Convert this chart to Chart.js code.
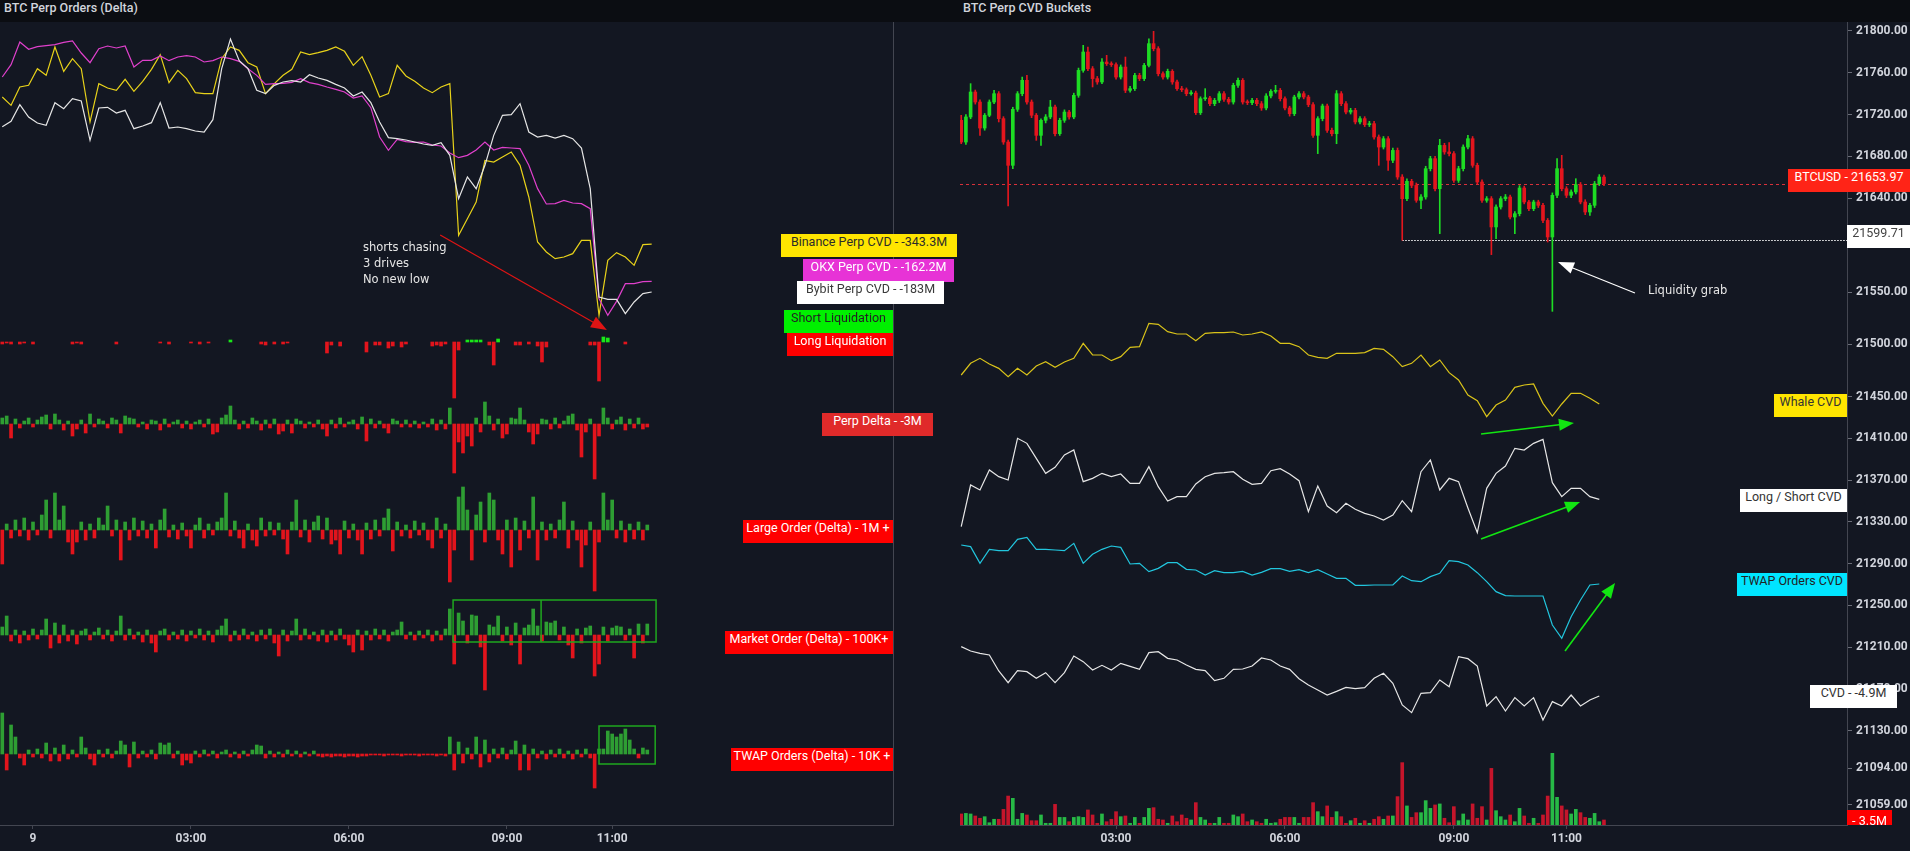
<!DOCTYPE html>
<html>
<head>
<meta charset="utf-8">
<script src="https://cdn.jsdelivr.net/npm/chart.js@4.4.1/dist/chart.umd.min.js"></script>
<style>
  html, body { margin: 0; padding: 0; background: #131722; width: 1910px; height: 851px; overflow: hidden; }
  #hdr { position: absolute; left: 0; top: 0; width: 1910px; height: 22px; background: #0b0d12; }
  .title { position: absolute; top: 0; height: 22px; line-height: 22px; color: #d1d4dc; font: 500 12.5px Roboto, sans-serif; }
  #leftWrap { position: absolute; left: 0; top: 22px; width: 957px; height: 829px; }
  #rightWrap { position: absolute; left: 960px; top: 22px; width: 950px; height: 829px; }
  .tag { position: absolute; height: 23px; line-height: 23px; text-align: center; white-space: nowrap; overflow: hidden;
         font: 12.5px Roboto, sans-serif; }
  .note { position: absolute; color: #e6e6e6; font: 11.5px "DejaVu Sans", sans-serif; white-space: nowrap; line-height: 16px; }
</style>
</head>
<body>
<div id="hdr"></div>
<div class="title" style="left:4px">BTC Perp Orders (Delta)</div>
<div class="title" style="left:963px">BTC Perp CVD Buckets</div>
<div id="leftWrap"><canvas id="leftChart" width="957" height="829"></canvas></div>
<div id="rightWrap"><canvas id="rightChart" width="950" height="829"></canvas></div>

<script>
// ============================================
// DATA - times are minutes after 00:00 of day 9
// ============================================

const leftTicks      = [0, 180, 360, 540, 660];
const leftTickLabels = ["9", "03:00", "06:00", "09:00", "11:00"];
const rightTicks      = [180, 360, 540, 660];
const rightTickLabels = ["03:00", "06:00", "09:00", "11:00"];
const priceTicks = [21800, 21760, 21720, 21680, 21640, 21550, 21500, 21450, 21410, 21370,
                    21330, 21290, 21250, 21210, 21170, 21130, 21094, 21059];

// Perp CVD per exchange (M), 10 min samples from 23:25
const binanceCvd = [-122.5,-135,-107.5,-105,-80,-90,-47.5,-84,-65,-80,
  -160,-102.5,-109,-112.5,-96,-114,-99,-81,-59,-101,
  -82.5,-95,-116,-117.5,-117.5,-65,-47.5,-52.5,-71,-77.5,
  -117.5,-102.5,-90,-81,-55,-59,-56,-52.5,-47.5,-54,
  -75,-62,-90,-122.5,-117.5,-75,-91,-99,-109,-116,
  -107.5,-102.5,-330,-305,-280,-217.5,-220,-212.5,-205,-225,
  -272.5,-340,-355,-365,-362.5,-357.5,-337.5,-337.5,-450,-367.5,
  -356,-362.5,-375,-344,-343.3];
const okxCvd = [-39.6,-32.2,-18.6,-23,-21.4,-20.8,-20.2,-18.8,-18,-25.2,
  -31,-22.6,-21,-22.2,-21,-33.6,-29.6,-29.6,-27,-29.8,
  -27.6,-26.8,-27.6,-30.6,-29.8,-27.6,-28.6,-30.2,-34.6,-38.6,
  -44,-43.6,-43.4,-42.8,-40.6,-43,-44,-45.6,-47,-48.6,
  -52.2,-51,-58,-75.6,-83.6,-77,-78.4,-78.8,-78.6,-80.4,
  -81,-85.2,-88,-86.6,-83.4,-78.6,-83.4,-81.8,-82.2,-82.6,
  -92.6,-106.6,-115.8,-115.6,-113.6,-115.2,-115.6,-118.6,-172.6,-182.6,
  -174.2,-163.6,-163.6,-162.4,-162.2];
const bybitCvd = [-83.8,-80.6,-70.6,-78,-81.6,-83,-69.4,-73,-67,-68.4,
  -92,-72.6,-72.2,-75.6,-74,-85,-83.4,-81.4,-69.4,-84.6,
  -84,-85,-86.4,-87,-79.6,-49,-31.2,-44.2,-49,-62,
  -64,-59,-57,-56.2,-57,-52.6,-54.6,-56,-58.4,-60.6,
  -65.4,-63,-69.4,-81,-90.4,-91,-91.8,-93,-94.2,-95,
  -93.4,-101,-127,-114,-121,-107,-89,-77,-76.6,-70,
  -87,-90,-89,-90.6,-89,-91,-96.6,-121,-186,-187.4,
  -187.4,-196,-189,-184,-183];

// 5 min delta bars from 23:25 (short liq > 0, long liq < 0)
const liquidations = [-2,-1,-2,0,-2,-1,0,-2,0,0, 0,0,0,0,0,0,-2,-1,-2,0,
  0,0,0,0,0,0,-2,0,0,0, 0,0,0,0,0,0,-1,0,-2,0,
  0,0,0,-1,0,-2,0,-1,0,0, 0,0,2,0,0,0,0,0,0,-2,
  -3,0,-2,0,-2,-1,0,0,0,0, 0,0,0,0,-11,-3,0,-4,0,0,
  0,0,0,-10,0,-3,-3,0,-6,-4, 0,-5,-2,0,0,0,0,0,-4,-3,
  -4,-2,0,-56,-8,0,2,2,2,2, 0,-3,-23,3,0,0,0,-3,-3,0,
  -2,0,-4,-20,-5,0,0,0,0,0, 0,0,0,0,-3,-3,-39,5,4,0,
  0,0,-2,0,0,0,0,0];
const perpDelta = [6,8,-14,5,-4,3,6,-3,4,7, 9,-5,10,4,-6,3,-12,-5,4,-9,
  10,-3,5,3,-4,6,4,-9,8,6, 5,-3,2,-5,4,3,-6,5,-3,2,
  4,-4,3,-5,2,4,-3,5,-10,-8, 6,9,18,4,-5,3,-4,6,3,-6,
  4,-4,5,-10,-7,4,-9,5,3,-4, 2,-3,4,-5,-12,4,-4,6,-3,2,
  4,-5,7,-17,5,-4,3,-4,-9,5, 3,-3,4,-3,3,-4,2,-3,5,-6,
  4,-5,16,-49,-18,-29,-12,-22,6,-8, 22,8,-6,5,-14,-10,6,5,16,4,
  -8,-20,-10,5,4,-5,6,-4,3,8, 10,-6,-33,-8,5,-55,-12,16,6,-5,
  4,7,-6,5,-4,6,-5,-3];
const largeOrders = [-34,6,-8,10,-6,12,-10,8,-5,15, 30,-8,37,10,24,-12,-24,-12,8,-10,
  6,-8,12,5,24,-6,10,-30,8,-10, 12,-6,9,-8,6,-18,10,21,-7,5,
  -9,7,-6,-18,5,12,-8,6,-5,8, 12,37,-6,9,-8,-18,6,-10,-16,12,
  -6,8,-5,7,-9,-24,8,30,-7,10, -12,8,14,-9,12,-14,-10,-24,9,-8,
  6,-10,-24,7,-9,10,-6,12,21,-21, 8,-6,5,-8,9,-5,7,-10,-18,12,
  -8,6,-52,-20,33,43,20,-30,15,28, -12,37,30,-10,-24,10,-37,12,-20,9,
  -8,33,-30,8,-10,6,-8,10,28,-18, 9,-10,-37,-15,8,-61,-12,37,10,30,
  -8,9,-12,6,-9,8,-10,5];
const marketOrders = [8,19,-6,5,-8,4,-5,6,-4,5, 16,-13,12,-8,10,-6,5,-9,4,6,
  -5,3,7,-4,5,-6,4,19,-5,6, -4,3,-7,5,-8,-17,4,6,-5,3,
  -4,5,-6,4,-3,6,-5,4,-7,5, 9,16,-6,4,-5,6,-4,3,-6,5,
  -4,6,-8,-21,5,-6,4,16,-5,6, -4,3,-6,5,-7,4,-5,6,-4,-10,
  -17,5,-15,4,-5,6,-4,5,-6,3, 5,13,-4,3,-5,4,-3,5,-6,4,
  -5,6,26,-29,22,14,-8,20,19,-12, -55,10,8,19,-6,8,-10,12,-29,7,
  10,26,9,-6,13,12,14,-5,8,-10, -23,6,-8,7,9,-41,-29,8,-6,7,
  9,8,-5,6,-23,11,-8,11];
const twapOrders = [41,-16,29,17,-4,-11,4,-3,5,-4, 11,-7,6,-7,9,-5,4,-3,17,6,
  -5,-11,4,-3,5,-4,3,13,9,-13, 12,-4,3,-3,4,-5,11,9,11,-4,
  3,-11,-6,-9,3,-3,4,-2,3,-4, 2,4,-3,2,-4,3,-2,4,9,8,
  -4,3,-3,2,-3,4,-2,3,-3,2, -2,3,-2,-3,-2,-3,-2,-2,-3,-2,
  -2,-3,-2,-2,-1,-1,-1,-2,-1,-1, -1,-2,-1,-1,-1,-2,-1,-1,-1,-2,
  -1,-2,17,-16,12,-9,6,-5,17,-13, 14,-8,5,-4,6,-5,4,13,-16,9,
  -16,5,-4,3,-5,4,-3,5,-4,3, -5,4,-3,5,-4,-34,5,5,23,20,
  17,20,25,14,5,-4,6,4];

// BTCUSD 5 min candles from 00:15
const opens = [21714.5,21693.7,21717.7,21741.6,21732.0,21707.1,21719.3,21732.0,21740.0,21716.1,
  21693.7,21671.4,21725.0,21740.0,21752.8,21732.0,21719.3,21700.1,21714.5,21717.7,
  21727.2,21701.7,21714.5,21722.4,21717.7,21738.4,21762.3,21779.9,21763.9,21754.4,
  21751.2,21770.3,21768.7,21767.8,21755.9,21765.5,21743.2,21744.8,21757.5,21754.4,
  21767.1,21787.9,21783.1,21759.1,21755.9,21761.4,21751.2,21744.8,21743.8,21740.0,
  21740.6,21721.8,21735.2,21735.8,21730.4,21733.6,21740.0,21734.6,21732.0,21748.0,
  21752.8,21732.0,21731.4,21733.6,21730.4,21726.3,21737.8,21742.2,21743.2,21735.2,
  21726.3,21720.8,21736.8,21740.0,21736.8,21729.5,21700.1,21716.1,21728.2,21704.9,
  21701.7,21740.0,21730.4,21722.4,21724.0,21712.9,21716.1,21710.3,21711.3,21698.5,
  21688.9,21696.9,21676.2,21685.7,21660.2,21639.5,21656.1,21652.2,21637.9,21641.1,
  21668.2,21677.8,21649.0,21690.5,21684.2,21682.6,21657.0,21668.2,21688.9,21696.9,
  21671.4,21655.4,21637.9,21639.5,21612.4,21631.5,21639.5,21641.1,21621.9,21625.1,
  21649.7,21636.3,21629.9,21636.3,21633.1,21618.7,21602.8,21642.7,21668.2,21649.0,
  21642.7,21645.9,21652.9,21636.3,21626.7,21633.1,21653.8,21660.2];
const highs = [21719.3,21720,21749.6,21743.5,21734,21721,21734,21743.2,21742,21718,
  21695.5,21727,21742,21755.9,21757.5,21734,21721,21716,21720,21733.6,
  21729,21716.5,21724.5,21724,21740.5,21764.5,21786.3,21784.7,21766,21756.5,
  21773.5,21776.7,21770.5,21769.5,21767.5,21775.1,21747,21759.5,21759.5,21769,
  21792.6,21799.7,21785,21761,21763.5,21763,21753,21747,21745.5,21743,
  21742.5,21737,21744.8,21737.5,21735.5,21742,21742,21736.5,21750,21755,
  21754.5,21734,21735.5,21735.5,21732.5,21740,21744,21748,21745,21737,
  21728,21738.5,21742,21742,21738.5,21731.5,21718,21730,21730,21707,
  21743,21742,21732.5,21726,21726,21718,21718,21713.5,21713.5,21700.5,
  21699,21699,21688,21688,21662.5,21658.5,21658,21654.5,21643.5,21670.5,
  21680,21680,21696.3,21692.5,21693.1,21684.5,21670.5,21691,21700.1,21699,
  21673.5,21657.5,21641.5,21641.5,21633.5,21641.5,21643.5,21643,21627,21652,
  21651.5,21638,21638,21638,21635,21620.5,21645,21677.8,21681,21651,
  21648,21658.6,21655,21638.5,21635,21656,21662.5,21662];
const lows = [21692.1,21691.5,21716,21730,21700.1,21705,21718,21730.5,21712.9,21691.5,
  21632.5,21668.2,21723,21738,21730,21717,21695.3,21690.5,21712,21716,
  21699.5,21700,21712.5,21715.5,21716,21736.5,21760.5,21762,21746.4,21749,
  21749.5,21767,21766,21754,21754,21741,21741.5,21743,21752.5,21752.5,
  21765.5,21781,21757,21754,21754,21749,21743,21742,21738,21738.5,
  21720,21720,21733.5,21728.5,21728.5,21731.5,21732.5,21730,21730,21746,
  21730,21729.5,21729.5,21728.5,21724,21724.5,21736,21740.5,21733,21724.5,
  21718.5,21719,21735,21735,21727.5,21698,21682.6,21714,21703,21699.5,
  21692.1,21728.5,21720.5,21720.5,21711,21711,21708.5,21708.5,21696.5,21671.4,
  21687,21666.6,21674,21658,21599.71,21637.5,21650,21636,21629.9,21639,
  21666,21647,21606,21682,21680.5,21655,21655,21666,21687,21669.5,
  21653.5,21636,21636,21585.9,21601.2,21629.5,21637.5,21620,21606,21623,
  21634.5,21628,21628,21631,21616.5,21598,21531.6,21640.5,21647,21640.5,
  21640.5,21644,21634.5,21624.2,21623.5,21631,21652,21652];
const closes = [21693.7,21717.7,21741.6,21732.0,21707.1,21719.3,21732.0,21740.0,21716.1,21693.7,
  21671.4,21725.0,21740.0,21752.8,21732.0,21719.3,21700.1,21714.5,21717.7,21727.2,
  21701.7,21714.5,21722.4,21717.7,21738.4,21762.3,21779.9,21763.9,21754.4,21751.2,
  21770.3,21768.7,21767.8,21755.9,21765.5,21743.2,21744.8,21757.5,21754.4,21767.1,
  21787.9,21783.1,21759.1,21755.9,21761.4,21751.2,21744.8,21743.8,21740.0,21740.6,
  21721.8,21735.2,21735.8,21730.4,21733.6,21740.0,21734.6,21732.0,21748.0,21752.8,
  21732.0,21731.4,21733.6,21730.4,21726.3,21737.8,21742.2,21743.2,21735.2,21726.3,
  21720.8,21736.8,21740.0,21736.8,21729.5,21700.1,21716.1,21728.2,21704.9,21701.7,
  21740.0,21730.4,21722.4,21724.0,21712.9,21716.1,21710.3,21711.3,21698.5,21688.9,
  21696.9,21676.2,21685.7,21660.2,21639.5,21656.1,21652.2,21637.9,21641.1,21668.2,
  21677.8,21649.0,21690.5,21684.2,21682.6,21657.0,21668.2,21688.9,21696.9,21671.4,
  21655.4,21637.9,21639.5,21612.4,21631.5,21639.5,21641.1,21621.9,21625.1,21649.7,
  21636.3,21629.9,21636.3,21633.1,21618.7,21602.8,21642.7,21668.2,21649.0,21642.7,
  21645.9,21652.9,21636.3,21626.7,21633.1,21653.8,21660.2,21653.97];
// volume (M)
const volumes = [7.7,8.1,7.7,6.3,4.7,5.8,1.6,4.0,4.0,10.9,
  20.2,18.6,4.0,8.1,7.0,3.0,3.0,7.0,1.2,1.2,
  14.4,5.3,5.3,2.3,5.3,5.8,5.3,10.5,7.0,1.2,
  7.7,2.3,4.0,9.3,5.8,6.3,1.2,5.3,1.2,5.3,
  11.6,12.1,4.0,3.5,1.2,6.3,2.3,7.0,4.7,3.5,
  15.6,5.3,3.5,1.2,1.2,5.3,1.2,1.2,7.0,5.8,
  7.7,2.3,3.5,2.3,1.2,4.0,1.2,1.6,4.0,5.3,
  5.3,5.3,1.2,5.3,5.3,15.6,9.3,5.8,13.3,5.3,
  9.3,5.8,1.2,3.0,4.7,1.2,3.0,1.2,4.0,5.8,
  4.0,6.3,6.3,19.8,43.5,13.3,5.3,8.6,8.6,17.0,
  11.6,14.0,14.7,4.7,1.6,12.8,3.0,7.7,3.5,14.7,
  4.7,12.8,3.5,39.5,10.0,5.8,3.5,7.0,2.3,11.6,
  6.3,1.2,4.7,1.2,7.0,20.2,50.0,19.3,13.3,10.5,
  7.7,10.9,8.6,5.3,4.7,8.1,2.3,3.5];

// CVD buckets (M), 10 min samples from 00:15
const whaleCvd = [26.25,35,38.75,34.5,31.25,25,31.25,26.25,33,36.25,
  32,36,38.75,50,41.25,41.25,37,40,47,47.5,
  65,64.25,58.75,57,57,52,57.5,58,58,58.5,
  56.25,57,58.5,55.5,50,50,47.5,41.25,39.5,38.75,
  42.5,42.5,42.5,43,46.25,45.5,40,32.5,35,41.25,
  32.5,37.5,28,22.5,11.25,7,-5,3.75,7.5,17,
  18.75,19.5,5,-4.5,4.5,12.5,12.5,8.75,4.5];
const longShortCvd = [12.5,43.75,40,55,50,47.5,78.75,75,63.75,52.5,
  57,66.25,70,46.25,48.75,52.5,50,52,45,45,
  57.5,42.5,31.75,35,35,44.5,50,52.5,53,53.75,
  48,44.25,45,54.5,56,52,47,23.75,43,28,
  23,30,25.5,22.5,20.5,17.5,21.25,32,23.75,53.75,
  62.5,40,48.75,46.25,26.5,8,41.25,52.5,58,71.25,
  70,75,78,45.5,35,41.25,41.25,35,33];
const twapCvd = [73.75,72.5,60,70.5,69.5,69.5,78,79.5,70.5,70.5,
  70,69.5,75,60,66.75,70.5,73,72,59.5,60,
  53.75,56.25,60.5,60.5,55.5,55,51.25,54.5,53,53,
  54,51.25,53.25,56,56,54,55.25,53,55.25,52,
  48.75,48.75,43.5,43.5,43.75,43.75,43.75,50.5,47,46.25,
  50,52.5,62,61.25,58.75,53,46.25,38.75,35.75,35.5,
  35.5,35.5,35.5,13.75,3.75,20,32.5,43.75,44.5];
const totalCvd = [2.5,1.85,1.5,1.25,-1.15,-2.9,-1.1,-1.25,-2.25,-1.4,
  -2.9,-1.4,1.1,0.25,-1,-0.3,-1,0,-0.45,-0.9,
  1.6,1.75,0.75,0.5,-0.25,-0.9,-1.1,-2.6,-2.25,-0.9,
  -0.85,-0.4,0.8,0.5,-0.4,-0.9,-2.3,-3.25,-4,-4.75,
  -4.2,-3.6,-3.8,-3.65,-2.25,-1.5,-3,-6.25,-7.4,-4.5,
  -4.4,-2.5,-3.5,1,0.7,-0.4,-6.4,-5,-7.15,-5.15,
  -6.4,-5.15,-8.5,-5.75,-6.4,-4.75,-6.4,-5.5,-4.9];

const lastPrice = 21653.97;
const sweptLow  = 21599.71;

// ============================================
// LAYOUT / STYLE
// ============================================
const PLOT_TOP = 22, PLOT_BOTTOM = 825;   // page y of both plot areas
const COL = {
  text: "#d1d4dc", axis: "#434651",
  yellow: "#E8D21A", magenta: "#E040CC", white: "#E6E6E6", cyan: "#22C6DE",
  candleUp: "#1EDC24", candleDown: "#E3161E", volUp: "#27B946", volDown: "#C5152B",
  barUp: "#2E9E33", barDown: "#E3141C", liqUp: "#19E619",
  boxGreen: "#1FA81F",
};
Chart.defaults.font.family = "Roboto, sans-serif";
Chart.defaults.color = COL.text;

// hidden overlay axis: value vA sits at page y pA, vB at pB
function bandAxis(vA, pA, vB, pB) {
  const k = (vB - vA) / (pB - pA);
  return { display: false, min: vA + (PLOT_BOTTOM - pA) * k, max: vA + (PLOT_TOP - pA) * k };
}

function timeAxis(min, max, ticks, labels) {
  return {
    type: "linear", position: "bottom", min, max, offset: false,
    afterBuildTicks: (s) => { s.ticks = ticks.map(v => ({ value: v })); },
    ticks: { autoSkip: false, maxRotation: 0, padding: 3, color: COL.text,
             font: { size: 12, weight: "bold" },
             callback: (v) => labels[ticks.indexOf(v)] },
    grid: { offset: false, drawOnChartArea: false, drawTicks: true, tickLength: 4, color: COL.axis },
    border: { color: COL.axis },
    afterFit: (s) => { s.height = 26; s.paddingLeft = 0; s.paddingRight = 0; },
  };
}

function lineSet(times, values, axis, color) {
  return { type: "line", data: times.map((t, i) => ({ x: t, y: values[i] })), yAxisID: axis,
           borderColor: color, borderWidth: 1.2, pointRadius: 0, tension: 0 };
}

function deltaBars(times, values, axis, upColor) {
  return { type: "bar", yAxisID: axis, grouped: false, barThickness: 3,
           data: times.map((t, i) => ({ x: t, y: values[i] })),
           backgroundColor: values.map(v => v > 0 ? upColor : v < 0 ? COL.barDown : "rgba(0,0,0,0)") };
}

function drawArrow(ctx, x1, y1, x2, y2, color, width, headLen, headW) {
  const a = Math.atan2(y2 - y1, x2 - x1);
  const c = Math.cos(a), s = Math.sin(a);
  ctx.save();
  ctx.strokeStyle = color; ctx.fillStyle = color; ctx.lineWidth = width;
  ctx.beginPath(); ctx.moveTo(x1, y1); ctx.lineTo(x2 - headLen * 0.7 * c, y2 - headLen * 0.7 * s); ctx.stroke();
  ctx.beginPath(); ctx.moveTo(x2, y2);
  ctx.lineTo(x2 - headLen * c + headW * s, y2 - headLen * s - headW * c);
  ctx.lineTo(x2 - headLen * c - headW * s, y2 - headLen * s + headW * c);
  ctx.closePath(); ctx.fill();
  ctx.restore();
}

// ============================================
// 1. LEFT - BTC Perp Orders (Delta)
// ============================================
const leftTimes = binanceCvd.map((_, k) => -35 + 10 * k);
const barTimes  = perpDelta.map((_, i) => -35 + 5 * i);

const leftOverlay = {
  id: "leftOverlay",
  afterDatasetsDraw(chart) {
    const { ctx, scales } = chart;
    const x = scales.x, yb = scales.yBin;
    // "shorts chasing" arrow
    drawArrow(ctx, x.getPixelForValue(464), yb.getPixelForValue(-329.5),
                   x.getPixelForValue(654), yb.getPixelForValue(-472), "#E01414", 1.2, 16, 6);
    // highlighted bar regions
    ctx.save();
    ctx.strokeStyle = COL.boxGreen; ctx.lineWidth = 1.5;
    const ym = scales.yMkt, yt = scales.yTwapD;
    const r = (t0, t1, v0, v1, ax) => {
      const x0 = x.getPixelForValue(t0), x1 = x.getPixelForValue(t1);
      const y0 = ax.getPixelForValue(v0), y1 = ax.getPixelForValue(v1);
      ctx.strokeRect(x0, y0, x1 - x0, y1 - y0);
    };
    r(478.7, 710, 35, -7, ym);
    ctx.beginPath();
    ctx.moveTo(x.getPixelForValue(579), ym.getPixelForValue(35));
    ctx.lineTo(x.getPixelForValue(579), ym.getPixelForValue(-7));
    ctx.stroke();
    r(645, 709, 28, -10, yt);
    ctx.restore();
  },
};

new Chart(document.getElementById("leftChart"), {
  data: {
    datasets: [
      deltaBars(barTimes, liquidations, "yLiq", COL.liqUp),
      deltaBars(barTimes, perpDelta, "yPerp", COL.barUp),
      deltaBars(barTimes, largeOrders, "yLarge", COL.barUp),
      deltaBars(barTimes, marketOrders, "yMkt", COL.barUp),
      deltaBars(barTimes, twapOrders, "yTwapD", COL.barUp),
      lineSet(leftTimes, bybitCvd, "yByb", COL.white),
      lineSet(leftTimes, okxCvd, "yOkx", COL.magenta),
      lineSet(leftTimes, binanceCvd, "yBin", COL.yellow),
    ],
  },
  options: {
    responsive: false, animation: false, events: [],
    layout: { padding: 0 },
    plugins: { legend: { display: false }, tooltip: { enabled: false } },
    scales: {
      x: timeAxis(-37.6, 980, leftTicks, leftTickLabels),
      yFrame: {
        position: "right", min: 0, max: 1,
        ticks: { display: false }, grid: { display: false },
        border: { color: COL.axis },
        afterFit: (s) => { s.width = 64; s.paddingTop = 0; s.paddingBottom = 0; },
      },
      yBin: bandAxis(-10, 22, -460, 322),
      yOkx: bandAxis(-6.6, 22, -186.6, 322),
      yByb: bandAxis(-21, 22, -201, 322),
      yLiq: bandAxis(0, 342, 10, 332),
      yPerp: bandAxis(0, 424, 10, 414),
      yLarge: bandAxis(0, 530, 10, 520),
      yMkt: bandAxis(0, 635, 10, 625),
      yTwapD: bandAxis(0, 754, 10, 744),
    },
  },
  plugins: [leftOverlay],
});

// ============================================
// 2. RIGHT - BTC Perp CVD Buckets
// ============================================
const candleTimes = closes.map((_, i) => 15 + 5 * i);
const rightTimes  = whaleCvd.map((_, k) => 15 + 10 * k);
const isUp = closes.map((c, i) => c >= opens[i]);

const rightOverlay = {
  id: "rightOverlay",
  beforeDatasetsDraw(chart) {
    const { ctx, scales, chartArea } = chart;
    const yp = scales.yPrice;
    ctx.save();
    ctx.lineWidth = 1;
    ctx.strokeStyle = "#D8313A";
    ctx.setLineDash([3, 3]);
    const yl = Math.round(yp.getPixelForValue(lastPrice)) + 0.5;
    ctx.beginPath(); ctx.moveTo(chartArea.left, yl); ctx.lineTo(chartArea.right, yl); ctx.stroke();
    ctx.strokeStyle = "#FFFFFF";
    ctx.setLineDash([1.5, 1.5]);
    const ys = Math.round(yp.getPixelForValue(sweptLow)) + 0.5;
    ctx.beginPath(); ctx.moveTo(scales.x.getPixelForValue(candleTimes[94]), ys); ctx.lineTo(chartArea.right, ys); ctx.stroke();
    ctx.restore();
  },
  afterDatasetsDraw(chart) {
    const { ctx, scales } = chart;
    const x = scales.x;
    const P = (t, v, ax) => [x.getPixelForValue(t), scales[ax].getPixelForValue(v)];
    let a, b;
    a = P(733, 21549.2, "yPrice"); b = P(651, 21578.8, "yPrice");
    drawArrow(ctx, a[0], a[1], b[0], b[1], "#FFFFFF", 1.2, 16, 6);
    a = P(569, -18, "yWhale"); b = P(668, -9.75, "yWhale");
    drawArrow(ctx, a[0], a[1], b[0], b[1], "#12E612", 1.6, 15, 6);
    a = P(569, 3.25, "yLs"); b = P(674.5, 31, "yLs");
    drawArrow(ctx, a[0], a[1], b[0], b[1], "#12E612", 1.6, 15, 6);
    a = P(658.5, -5.75, "yTwap"); b = P(711.8, 45.25, "yTwap");
    drawArrow(ctx, a[0], a[1], b[0], b[1], "#12E612", 1.6, 15, 6);
  },
};

const priceAxis = Object.assign(bandAxis(21800, 31, 21059, 805), {
  display: true, position: "right",
  afterBuildTicks: (s) => { s.ticks = priceTicks.map(v => ({ value: v })); },
  ticks: { autoSkip: false, padding: 4, color: COL.text, font: { size: 12, weight: "bold" },
           callback: (v) => v.toFixed(2) },
  grid: { drawOnChartArea: false, drawTicks: true, tickLength: 5, color: "#6a6d78" },
  border: { color: COL.axis },
  afterFit: (s) => { s.width = 63; s.paddingTop = 0; s.paddingBottom = 0; },
});

new Chart(document.getElementById("rightChart"), {
  data: {
    datasets: [
      { type: "bar", yAxisID: "yVol", grouped: false, barThickness: 3,
        data: candleTimes.map((t, i) => ({ x: t, y: volumes[i] })),
        backgroundColor: isUp.map(u => u ? COL.volUp : COL.volDown) },
      lineSet(rightTimes, totalCvd, "yCvd", COL.white),
      lineSet(rightTimes, twapCvd, "yTwap", COL.cyan),
      lineSet(rightTimes, longShortCvd, "yLs", COL.white),
      lineSet(rightTimes, whaleCvd, "yWhale", "#D9C31A"),
      { type: "bar", yAxisID: "yPrice", grouped: false, barThickness: 1,
        data: candleTimes.map((t, i) => ({ x: t, y: [lows[i], highs[i]] })),
        backgroundColor: isUp.map(u => u ? COL.candleUp : COL.candleDown) },
      { type: "bar", yAxisID: "yPrice", grouped: false, barThickness: 3, minBarLength: 1,
        data: candleTimes.map((t, i) => ({ x: t, y: [opens[i], closes[i]] })),
        backgroundColor: isUp.map(u => u ? COL.candleUp : COL.candleDown) },
    ],
  },
  options: {
    responsive: false, animation: false, events: [],
    layout: { padding: 0 },
    plugins: { legend: { display: false }, tooltip: { enabled: false } },
    scales: {
      x: timeAxis(13.7, 959, rightTicks, rightTickLabels),
      yPrice: priceAxis,
      yWhale: bandAxis(75, 310, 0, 410),
      yLs: bandAxis(100, 410, 0, 543.33),
      yTwap: bandAxis(100, 510, 0, 643.33),
      yCvd: bandAxis(10, 596.67, 0, 663.33),
      yVol: bandAxis(50, 753.33, 0, 825),
    },
  },
  plugins: [rightOverlay],
});

// ============================================
// 3. VALUE TAGS AND NOTES
// ============================================
const tags = [
  ["Binance Perp CVD  -  -343.3M", 781, 234, 176, "#FFE500", "#2b2b2b"],
  ["OKX Perp CVD  -  -162.2M", 803, 259, 151, "#E733D6", "#ffffff"],
  ["Bybit Perp CVD  -  -183M", 797, 281, 147, "#FFFFFF", "#3a3a3a"],
  ["Short Liquidation", 784, 310, 109, "#00F000", "#222222"],
  ["Long Liquidation", 787, 333, 106, "#FF0000", "#ffffff"],
  ["Perp Delta  -  -3M", 822, 413, 111, "#E02A2A", "#ffffff"],
  ["Large Order (Delta) - 1M +", 743, 520, 150, "#FF0000", "#ffffff"],
  ["Market Order (Delta) - 100K+", 725, 631, 168, "#FF0000", "#ffffff"],
  ["TWAP Orders (Delta) - 10K +", 731, 748, 162, "#FF0000", "#ffffff"],
  ["BTCUSD  -  21653.97", 1788, 169, 122, "#FF2417", "#ffffff"],
  ["21599.71", 1847, 225, 63, "#FFFFFF", "#444444"],
  ["Whale CVD", 1774, 394, 73, "#FFE500", "#333333"],
  ["Long / Short CVD", 1740, 489, 107, "#FFFFFF", "#333333"],
  ["TWAP Orders CVD", 1737, 573, 110, "#00E5FF", "#222222"],
  ["CVD  -  -4.9M", 1810, 685, 87, "#FFFFFF", "#333333"],
];
tags.forEach(([txt, x, y, w, bg, fg]) => {
  const d = document.createElement("div");
  d.className = "tag";
  d.textContent = txt;
  Object.assign(d.style, { left: x + "px", top: y + "px", width: w + "px", background: bg, color: fg });
  document.body.appendChild(d);
});
const volTag = document.createElement("div");
volTag.className = "tag";
volTag.textContent = "- 3.5M";
Object.assign(volTag.style, { left: "1847px", top: "810px", width: "45px", height: "15px", lineHeight: "22px",
                              background: "#FF0000", color: "#ffffff" });
document.body.appendChild(volTag);

const notes = [
  ["shorts chasing<br>3 drives<br>No new low", 363, 239],
  ["Liquidity grab", 1648, 282],
];
notes.forEach(([html, x, y]) => {
  const d = document.createElement("div");
  d.className = "note";
  d.innerHTML = html;
  Object.assign(d.style, { left: x + "px", top: y + "px" });
  document.body.appendChild(d);
});
</script>
</body>
</html>
